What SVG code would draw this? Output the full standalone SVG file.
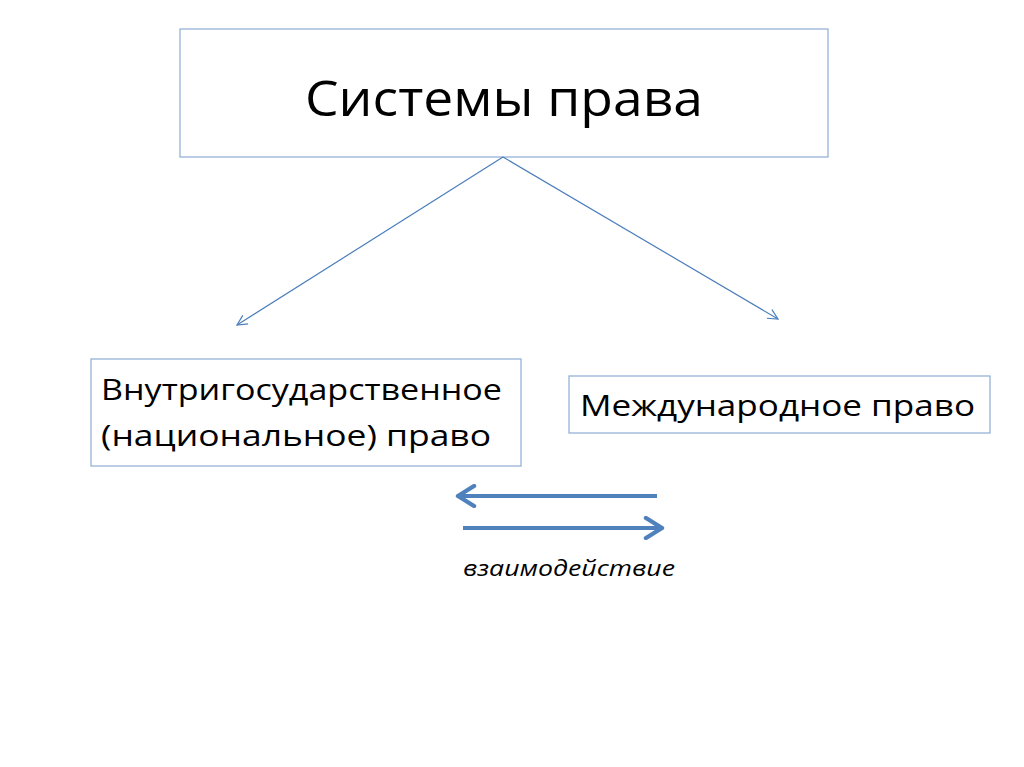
<svg xmlns="http://www.w3.org/2000/svg" width="1024" height="767" viewBox="0 0 1024 767">
<style>
.box{fill:#fff;stroke:#95b3d7;stroke-width:1.3}
.t{font-family:"Open Sans","Liberation Sans",sans-serif;fill:#000}
.thin{stroke:#4a7ebb;stroke-width:1.2;fill:none}
.thick{stroke:#4f81bd;stroke-width:4;fill:none}
</style>
<defs>
<marker id="a" viewBox="0 0 12 12" refX="11" refY="6" markerWidth="12" markerHeight="12" markerUnits="userSpaceOnUse" orient="auto"><path d="M1,1 L11,6 L1,11" fill="none" stroke="#4a7ebb" stroke-width="1.2"/></marker>
<marker id="b" viewBox="0 0 6 6" refX="5" refY="3" markerWidth="6" markerHeight="6" orient="auto"><path d="M1,0.5 L5,3 L1,5.5" fill="none" stroke="#4f81bd" stroke-width="1.1" stroke-linecap="round" stroke-linejoin="round"/></marker>
</defs>
<rect width="1024" height="767" fill="#fff"/>
<g id="n1"><rect class="box" x="180" y="29" width="648" height="128"/><text class="t" x="305" y="116" font-size="50" textLength="398" lengthAdjust="spacingAndGlyphs">Системы права</text></g>
<g id="n2"><rect class="box" x="91" y="359" width="430" height="107"/><text class="t" x="101" y="400" font-size="29" textLength="401" lengthAdjust="spacingAndGlyphs">Внутригосударственное</text><text class="t" x="101" y="446" font-size="29" textLength="390" lengthAdjust="spacingAndGlyphs">(национальное) право</text></g>
<g id="n3"><rect class="box" x="569" y="376" width="421" height="57"/><text class="t" x="580" y="416" font-size="29" textLength="395" lengthAdjust="spacingAndGlyphs">Международное право</text></g>
<g id="connectors">
<line class="thin" x1="503" y1="157" x2="237" y2="325" marker-end="url(#a)"/>
<line class="thin" x1="503" y1="157" x2="778" y2="319" marker-end="url(#a)"/>
<line class="thick" x1="657" y1="496" x2="458" y2="496" marker-end="url(#b)"/>
<line class="thick" x1="463" y1="528" x2="662" y2="528" marker-end="url(#b)"/>
</g>
<text class="t" x="463" y="576" font-size="22" font-style="italic" textLength="212" lengthAdjust="spacingAndGlyphs">взаимодействие</text>
</svg>
